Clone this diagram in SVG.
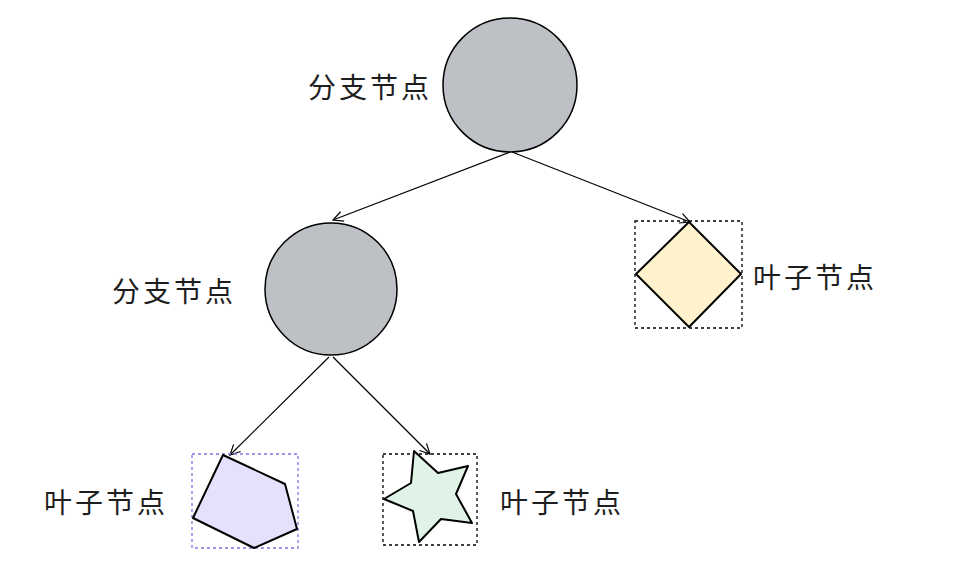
<svg xmlns="http://www.w3.org/2000/svg" width="966" height="577" viewBox="0 0 966 577">
<style>
text{font-family:"Noto Sans CJK SC","Noto Sans",sans-serif;font-size:28px;letter-spacing:3px;fill:#1e1e1e}
.c{fill:#bdc0c4;stroke:#000;stroke-width:1.5}
.s{stroke:#000;stroke-width:2;stroke-linejoin:round}
.box{fill:none;stroke:#000;stroke-width:1.3;stroke-dasharray:3 3}
.e{stroke:#000;stroke-width:1.2;fill:none;marker-end:url(#a)}
</style>
<defs><marker id="a" viewBox="0 0 12 12" refX="11" refY="6" markerWidth="12" markerHeight="12" markerUnits="userSpaceOnUse" orient="auto"><path d="M1 1L11 6L1 11" fill="none" stroke="#000" stroke-width="1.2"/></marker></defs>
<g id="edges">
<line class="e" x1="510" y1="152" x2="333" y2="220"/>
<line class="e" x1="512" y1="152" x2="690" y2="222"/>
<line class="e" x1="329" y1="357" x2="230" y2="455"/>
<line class="e" x1="333" y1="357" x2="430" y2="454"/>
</g>
<g id="root"><circle class="c" cx="510" cy="85" r="67"/><text x="308" y="98">分支节点</text></g>
<g id="branch"><circle class="c" cx="331" cy="289" r="66"/><text x="112" y="302">分支节点</text></g>
<g id="leaf-diamond"><rect class="box" x="635" y="221" width="107" height="107"/><polygon class="s" fill="#fff2cc" points="689,222 741,274 689,327 636,274"/><text x="753" y="288">叶子节点</text></g>
<g id="leaf-pentagon"><rect class="box" style="stroke:#8c6fe0" x="192" y="454" width="106" height="94"/><polygon class="s" fill="#e6e0fc" points="223,455 285,484 297,529 254,548 193,518"/><text x="44" y="513">叶子节点</text></g>
<g id="leaf-star"><rect class="box" x="383" y="454" width="94" height="91"/><polygon class="s" fill="#dff3e6" points="414,451 438,473 468,466 456,494 472,523 441,519 419,542 413,511 384,499 411,483"/><text x="500" y="513">叶子节点</text></g>
</svg>
